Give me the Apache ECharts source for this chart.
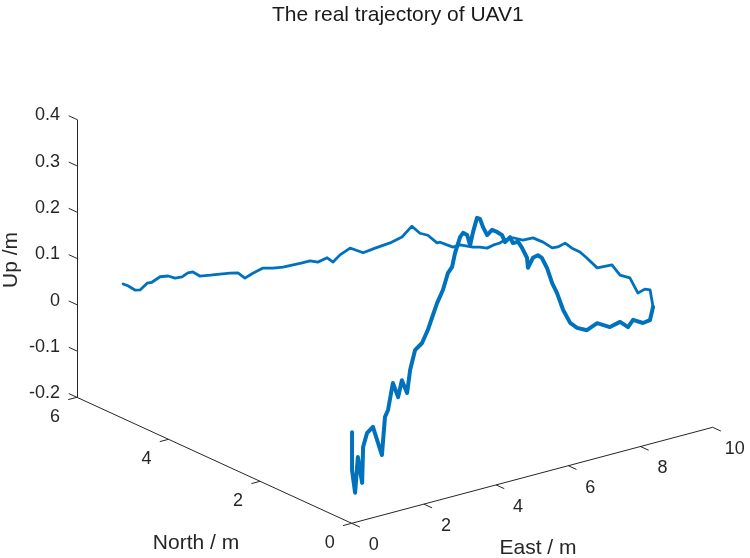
<!DOCTYPE html>
<html><head><meta charset="utf-8">
<script src="https://cdn.jsdelivr.net/npm/echarts@6/dist/echarts.min.js"></script>
<style>html,body{margin:0;padding:0;background:#fff}#c{width:750px;height:558px}</style>
</head><body><div id="c"></div><script>
// ---- data (metres) ----
const east = [0.39,0.39,0.50,0.59,0.72,0.76,0.88,1.07,1.21,1.37,1.48,1.59,1.75,1.92,2.05,2.22,2.33,2.49,2.71,2.91,
3.06,3.24,3.44,3.62,3.77,3.89,4.07,4.19,4.34,4.46,4.58,4.74,4.86,4.97,5.11,5.27,5.42,5.57,5.67,5.82,
5.91,6.07,6.19,6.34,6.38,6.53,6.68,6.79,6.92,7.05,7.17,7.33,7.51,7.69,7.95,8.22,8.56,8.83,9.05,9.19,
9.49,9.72,9.87,9.89,9.81,9.68,9.52,9.31,9.15,8.83,8.62,8.48,8.31,8.17,8.02,7.90,7.70,7.47,7.24,7.02,
6.83,6.73,6.58,6.45,6.29,6.14,5.85,5.70,5.57,5.43,5.37,5.18,5.01,4.84,4.64,4.40,4.10,3.87,3.61,3.42,
3.29,3.19,3.02,2.88,2.75,2.59,2.41,2.23,2.06,1.88,1.75,1.63,1.50,1.34,1.18,1.02,0.93,0.88,0.82,0.74,
0.66,0.58,0.49,0.46,0.38,0.34,0.27,0.24];
const north = [0.30,0.30,0.32,0.33,0.34,0.35,0.36,0.38,0.40,0.42,0.44,0.46,0.48,0.50,0.52,0.54,0.56,0.58,0.60,0.63,
0.66,0.69,0.72,0.75,0.78,0.81,0.84,0.87,0.90,0.93,0.96,1.00,1.03,1.05,1.07,1.09,1.10,1.11,1.12,1.13,
1.14,1.15,1.16,1.17,1.18,1.19,1.20,1.20,1.19,1.18,1.17,1.16,1.15,1.14,1.13,1.12,1.11,1.10,1.10,1.10,
1.12,1.15,1.20,1.28,1.33,1.38,1.43,1.48,1.53,1.60,1.66,1.70,1.74,1.78,1.82,1.85,1.89,1.93,1.97,2.01,
2.04,2.07,2.10,2.13,2.16,2.19,2.25,2.28,2.31,2.35,2.37,2.42,2.46,2.50,2.56,2.63,2.72,2.80,2.88,2.95,
3.00,3.05,3.12,3.18,3.25,3.32,3.40,3.48,3.56,3.64,3.71,3.77,3.84,3.93,4.02,4.12,4.20,4.27,4.35,4.44,
4.53,4.64,4.75,4.83,4.92,5.00,5.10,5.18];
const up = [-0.025,-0.107,-0.159,-0.084,-0.143,-0.067,-0.040,-0.031,-0.063,-0.100,-0.021,-0.009,0.045,0.010,0.043,0.011,0.058,0.096,0.106,0.129,
0.150,0.177,0.200,0.232,0.240,0.266,0.296,0.301,0.292,0.266,0.291,0.316,0.310,0.289,0.268,0.275,0.267,0.257,0.239,0.246,
0.231,0.230,0.214,0.189,0.166,0.184,0.186,0.178,0.154,0.119,0.096,0.056,0.025,0.011,0.001,0.011,-0.004,0.002,-0.014,-0.001,
-0.015,-0.015,0.008,0.041,0.042,0.034,0.068,0.076,0.099,0.096,0.119,0.133,0.143,0.155,0.148,0.147,0.162,0.174,0.172,0.180,
0.178,0.172,0.169,0.164,0.168,0.170,0.178,0.175,0.181,0.188,0.187,0.205,0.211,0.228,0.206,0.195,0.186,0.177,0.189,0.175,
0.160,0.169,0.160,0.163,0.158,0.154,0.149,0.147,0.147,0.136,0.125,0.136,0.135,0.132,0.129,0.126,0.133,0.129,0.118,0.113,
0.115,0.110,0.095,0.090,0.073,0.070,0.076,0.077];
const eastTicks = [0, 2, 4, 6, 8, 10];
const northTicks = [0, 2, 4, 6];
const upTicks = [-0.2, -0.1, 0, 0.1, 0.2, 0.3, 0.4];
const upTickLabels = ['-0.2', '-0.1', '0', '0.1', '0.2', '0.3', '0.4'];
const eastRange = [0, 10], northRange = [0, 6], upRange = [-0.2, 0.4];
const titleText = 'The real trajectory of UAV1';
const eastName = 'East / m', northName = 'North / m', upName = 'Up /m';

// ---- fixed 3-D view (oblique projection onto a hidden pixel-scaled cartesian) ----
const W = 750, H = 558;
const view = { ox: 351.7, oy: 523.3, ex: 36.1, ey: -9.6, nx: -45.8, ny: -21.0, uy: -463 };
function proj(e, n, u) {
  return [view.ox + view.ex * e + view.nx * n,
          view.oy + view.ey * e + view.ny * n + view.uy * (u - upRange[0])];
}
function unit(v) { const l = Math.hypot(v[0], v[1]); return [v[0] / l, v[1] / l]; }
const dirE = unit([view.ex, view.ey]), dirN = unit([view.nx, view.ny]);
const TL = 9;
const traj = east.map((e, i) => proj(e, north[i], up[i]));
const split = 62;

const axisCol = '#262626', lineCol = '#0072BD';
const FONT = '"Liberation Sans", Arial, Helvetica, sans-serif';
const TICK_FS = 18, NAME_FS = 21;

// axes lines
const axisSegs = [
  [proj(eastRange[0], northRange[0], upRange[0]), proj(eastRange[1], northRange[0], upRange[0])],
  [proj(eastRange[0], northRange[0], upRange[0]), proj(eastRange[0], northRange[1], upRange[0])],
  [proj(eastRange[0], northRange[1], upRange[0]), proj(eastRange[0], northRange[1], upRange[1])]
];
const tickSegs = [];
const labels = [];
eastTicks.forEach(t => {
  const p = proj(t, northRange[0], upRange[0]);
  tickSegs.push([p, [p[0] - dirN[0] * TL, p[1] - dirN[1] * TL]]);
  labels.push({ x: p[0] + 22, y: p[1] + 22, t: String(t), align: 'center', fs: TICK_FS });
});
northTicks.forEach(t => {
  const p = proj(eastRange[0], t, upRange[0]);
  tickSegs.push([p, [p[0] - dirE[0] * TL, p[1] - dirE[1] * TL]]);
  labels.push({ x: p[0] - 22, y: p[1] + 20, t: String(t), align: 'center', fs: TICK_FS });
});
upTicks.forEach((t, i) => {
  const p = proj(eastRange[0], northRange[1], t);
  tickSegs.push([p, [p[0] + dirN[0] * TL, p[1] + dirN[1] * TL]]);
  labels.push({ x: p[0] - 17, y: p[1] - 4, t: upTickLabels[i], align: 'right', fs: TICK_FS });
});
labels.push({ x: 538, y: 548, t: eastName, align: 'center', fs: NAME_FS });
labels.push({ x: 196, y: 543, t: northName, align: 'center', fs: NAME_FS });
labels.push({ x: 11, y: 260, t: upName, align: 'center', fs: NAME_FS, rot: Math.PI / 2 });

const chart = echarts.init(document.getElementById('c'), null, { renderer: 'canvas' });
chart.setOption({
  animation: false,
  backgroundColor: '#fff',
  title: { text: titleText, left: 267, top: 0,
    textStyle: { fontFamily: FONT, fontSize: 21, fontWeight: 'normal', color: '#1a1a1a' } },
  grid: { left: 0, right: 0, top: 0, bottom: 0 },
  xAxis: { type: 'value', min: 0, max: W, show: false },
  yAxis: { type: 'value', min: 0, max: H, inverse: true, show: false },
  series: [
    { type: 'lines', coordinateSystem: 'cartesian2d', silent: true,
      lineStyle: { color: axisCol, width: 1, opacity: 1 },
      data: axisSegs.map(s => ({ coords: s })) },
    { type: 'lines', coordinateSystem: 'cartesian2d', silent: true,
      lineStyle: { color: axisCol, width: 1, opacity: 1 },
      data: tickSegs.map(s => ({ coords: s })) },
    { type: 'line', data: traj.slice(0, split + 1), showSymbol: false, symbol: 'none', silent: true,
      lineStyle: { color: lineCol, width: 4, join: 'round', cap: 'round' } },
    { type: 'line', data: traj.slice(split), showSymbol: false, symbol: 'none', silent: true,
      lineStyle: { color: lineCol, width: 2.8, join: 'round', cap: 'round' } },
    { type: 'custom', silent: true, data: labels.map(l => [l.x, l.y]),
      renderItem: function (params, api) {
        const d = labels[params.dataIndex];
        const p = api.coord([d.x, d.y]);
        return { type: 'text', x: p[0], y: p[1], rotation: d.rot || 0,
          style: { text: d.t, fontSize: d.fs, fontFamily: FONT, fill: axisCol,
                   align: d.align, verticalAlign: 'middle' } };
      } }
  ]
});
</script></body></html>
